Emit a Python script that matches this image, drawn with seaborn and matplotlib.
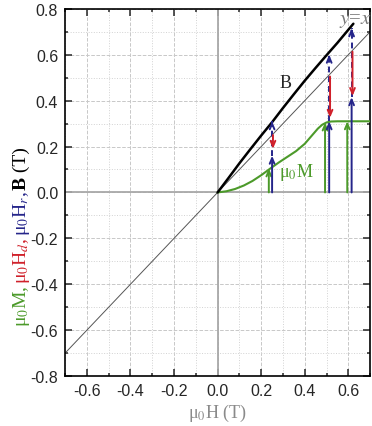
import numpy as np
import matplotlib
matplotlib.use("Agg")
import matplotlib.pyplot as plt
import seaborn as sns
from matplotlib.ticker import MultipleLocator, FormatStrFormatter

# --- data ---
H_line = [-0.7, 0.7]                  # y = x reference line
H_M = [0.0, 0.04, 0.08, 0.12, 0.16, 0.20, 0.24, 0.28, 0.32, 0.36, 0.40, 0.43, 0.46, 0.48, 0.50, 0.52, 0.55, 0.60, 0.70]
M = [0.0, 0.005, 0.015, 0.03, 0.05, 0.075, 0.103, 0.13, 0.155, 0.18, 0.212, 0.245, 0.278, 0.295, 0.305, 0.309, 0.31, 0.31, 0.31]
H_B = [0.0, 0.05, 0.10, 0.15, 0.20, 0.25, 0.30, 0.35, 0.40, 0.45, 0.50, 0.55, 0.623]
B = [0.0, 0.063, 0.127, 0.188, 0.248, 0.306, 0.368, 0.428, 0.487, 0.543, 0.598, 0.652, 0.735]

# three field points: green (M), blue (H_r), red (H_d)
x_green = [0.235, 0.493, 0.595]
M_top = [0.105, 0.305, 0.31]
x_blue = [0.25, 0.512, 0.615]
Hr_top = [0.16, 0.31, 0.415]
B_top = [0.31, 0.60, 0.715]
red_start = [0.25, 0.505, 0.613]
red_end = [0.19, 0.325, 0.42]

GREEN = "#4c9a2a"
RED = "#d0202a"
BLUE = "#25258a"

sns.set_style("ticks")
plt.rcParams["font.family"] = ["Liberation Sans", "DejaVu Sans"]
plt.rcParams["mathtext.fontset"] = "stix"

fig = plt.figure(figsize=(3.72, 4.27), dpi=100)
ax = fig.add_axes([0.175, 0.117, 0.82, 0.86])

# grid and zero lines
ax.xaxis.set_major_locator(MultipleLocator(0.2))
ax.xaxis.set_minor_locator(MultipleLocator(0.1))
ax.yaxis.set_major_locator(MultipleLocator(0.2))
ax.yaxis.set_minor_locator(MultipleLocator(0.1))
ax.grid(which="major", ls="--", lw=0.7, color="#c8c8c8")
ax.grid(which="minor", ls=":", lw=0.7, color="#d2d2d2")
ax.set_axisbelow(True)
ax.axhline(0, color="#a8a8a8", lw=1.3, zorder=1)
ax.axvline(0, color="#a8a8a8", lw=1.3, zorder=1)

# curves
sns.lineplot(x=H_line, y=H_line, ax=ax, color="#555555", lw=0.7, zorder=2)
sns.lineplot(x=H_M, y=M, ax=ax, color=GREEN, lw=1.5, zorder=3)
sns.lineplot(x=H_B, y=B, ax=ax, color="black", lw=1.8, zorder=3)

def arrow(x, y0, y1, color, dashed=False):
    if dashed:
        ax.plot([x, x], [y0, y1], color=color, lw=1.4, ls=(0, (3, 2)), zorder=4)
        y0 = y1 - 0.02 * np.sign(y1 - y0)
    ax.annotate("", xy=(x, y1), xytext=(x, y0),
                arrowprops=dict(arrowstyle="->,head_length=0.4,head_width=0.17",
                                color=color, lw=1.4, shrinkA=0, shrinkB=0),
                zorder=5)

for i in range(3):
    arrow(x_green[i], 0, M_top[i], GREEN)
    arrow(x_blue[i], 0, Hr_top[i], BLUE)
    arrow(x_blue[i], Hr_top[i], B_top[i], BLUE, dashed=True)
    arrow(x_blue[i] + 0.004, red_start[i], red_end[i], RED)

# annotations
serif = ["Liberation Serif", "DejaVu Serif"]
ax.text(0.31, 0.48, "B", family=serif, fontsize=13, ha="center", va="center")
ax.text(0.36, 0.09, "μ$_0$M", family=serif, fontsize=13, color=GREEN, ha="center", va="center")
ax.text(0.71, 0.755, "$y$=$x$", family=serif, fontsize=15, color="#777777", ha="right", va="center",
        clip_on=False)

ax.set_xlim(-0.7, 0.7)
ax.set_ylim(-0.8, 0.8)
ax.xaxis.set_major_formatter(FormatStrFormatter("%.1f"))
ax.yaxis.set_major_formatter(FormatStrFormatter("%.1f"))
ax.tick_params(which="both", direction="in", top=True, right=True, labelsize=11.5, width=1.1)
ax.tick_params(which="major", length=5, pad=5)
ax.tick_params(which="minor", length=2.5)
for s in ax.spines.values():
    s.set_linewidth(1.2)
    s.set_color("black")

ax.set_xlabel("μ$_0$H (T)", family=serif, fontsize=13, color="#8a8a8a", labelpad=3)

# multicoloured y label, stacked bottom to top
pieces = [("μ$_0$M, ", GREEN, "normal"),
          ("μ$_0$H$_d$, ", RED, "normal"),
          ("μ$_0$H$_r$, ", BLUE, "normal"),
          ("B", "black", "bold"),
          (" (T)", "black", "normal")]
prev = fig.text(0.057, 0.235, pieces[0][0], color=pieces[0][1], family=serif,
                fontsize=14, rotation=90, ha="center", va="bottom")
for txt, col, wt in pieces[1:]:
    prev = ax.annotate(txt, xy=(0.5, 1.0), xycoords=prev, color=col, family=serif,
                       fontsize=14, fontweight=wt, rotation=90, ha="center", va="bottom",
                       annotation_clip=False)

fig.savefig("out.png", dpi=100)
